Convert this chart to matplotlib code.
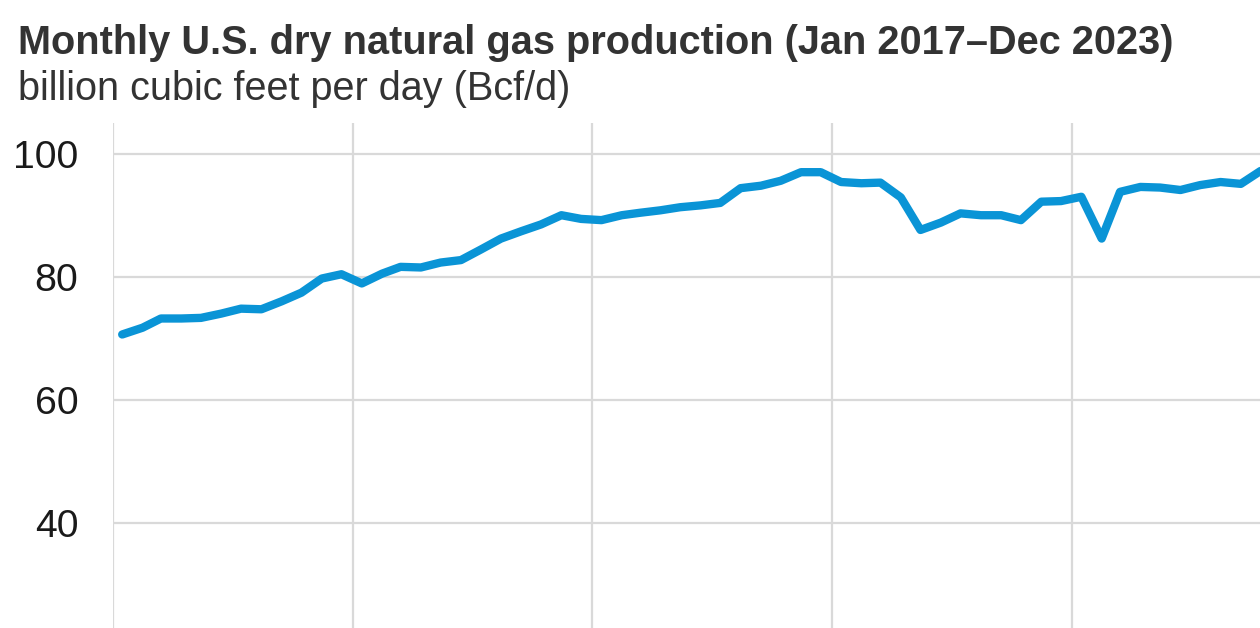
import matplotlib
matplotlib.use('Agg')
import matplotlib.pyplot as plt
import matplotlib.dates as mdates
import numpy as np
import pandas as pd

plt.rcParams['font.family'] = ['Liberation Sans', 'DejaVu Sans']

# Monthly dry gas production, Bcf/d (Jan 2017 onward)
start_month = '2017-01-01'
production = [
    70.6, 71.7, 73.2, 73.2, 73.3, 74.0, 74.8, 74.7, 76.0, 77.4, 79.7, 80.4,
    78.9, 80.5, 81.6, 81.5, 82.3, 82.7, 84.4, 86.2, 87.4, 88.5, 90.0, 89.4,
    89.2, 90.0, 90.4, 90.8, 91.3, 91.6, 92.0, 94.4, 94.8, 95.6, 97.0, 97.0,
    95.4, 95.2, 95.3, 92.9, 87.6, 88.8, 90.3, 90.0, 90.0, 89.2, 92.2, 92.3,
    93.0, 86.2, 93.8, 94.6, 94.5, 94.1, 94.9, 95.4, 95.1, 97.2,
]
y_ticks = [40, 60, 80, 100]

# monthly points plotted mid-month
months = pd.date_range(start_month, periods=len(production), freq='MS') + pd.Timedelta(days=14)

fig = plt.figure(figsize=(12.6, 6.28), dpi=100)
# the visible picture is a crop of a larger chart, so the axes run past the figure edges
ax = fig.add_axes([113 / 1260, 1 - 768.5 / 628, 1678 / 1260, 645.5 / 628])

ax.plot(months, production, color='#0a94d6', lw=6,
        solid_capstyle='round', solid_joinstyle='round', zorder=3)

ax.set_xlim(pd.Timestamp('2017-01-01'), pd.Timestamp('2024-01-01'))
ax.set_ylim(0, 105)
ax.set_yticks(y_ticks)
ax.xaxis.set_major_locator(mdates.YearLocator())
ax.grid(True, color='#d9d9d9', lw=1.6)
ax.set_axisbelow(True)
for s in ax.spines.values():
    s.set_visible(False)
ax.tick_params(axis='both', length=0, labelsize=28.3, colors='#1a1a1a')
ax.tick_params(axis='y', pad=25)
ax.tick_params(axis='x', labelbottom=False)

fig.text(18 / 1260, 1 - 54 / 628, 'Monthly U.S. dry natural gas production (Jan 2017\u2013Dec 2023)',
         fontsize=28.65, fontweight='bold', color='#333333', va='baseline', ha='left')
fig.text(18 / 1260, 1 - 100 / 628, 'billion cubic feet per day (Bcf/d)',
         fontsize=28.5, color='#333333', va='baseline', ha='left')

fig.savefig('out.png', dpi=100)
